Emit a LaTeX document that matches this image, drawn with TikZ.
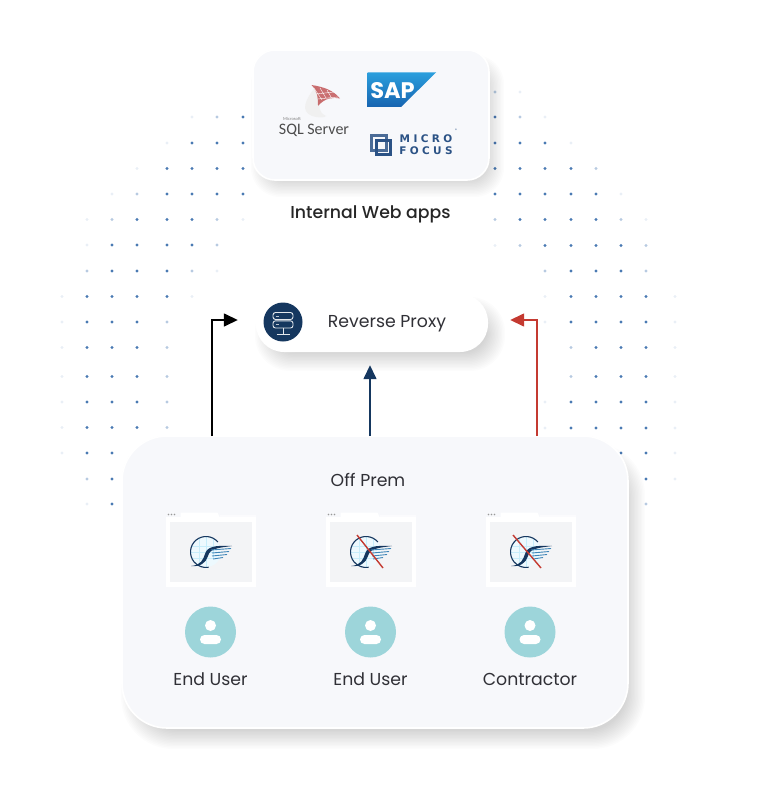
\documentclass[tikz,border=0pt]{standalone}
\usepackage{fontspec}
\setmainfont{Poppins}
\newfontfamily\mediumfont{Poppins Medium}
\newfontfamily\focusfont[LetterSpace=32]{DejaVu Sans}
\newfontfamily\sqlfont{Carlito}
\usetikzlibrary{arrows.meta}
\definecolor{navy}{HTML}{15375F}
\definecolor{brickred}{HTML}{C43A31}
\definecolor{paleteal}{HTML}{9DD5DA}
\definecolor{cardgrey}{HTML}{F7F8FB}
\definecolor{panelgrey}{HTML}{F3F4F6}
\definecolor{dotblue}{HTML}{4A7AB3}
\definecolor{textgrey}{HTML}{303036}
\definecolor{focusblue}{HTML}{2B5285}
\definecolor{saptop}{HTML}{2B9FDD}
\definecolor{sapbottom}{HTML}{1764B0}
\definecolor{wingblue}{HTML}{3F86B8}
\newcommand{\softshadow}[5]{%
  \foreach \s in {0,1,...,13}
    \fill [black, opacity=0.011, rounded corners={#5+7-\s}]
      (#1-7+\s*1.4,#2-7+\s*1.4) rectangle (#3+7-\s*1.4,#4+7-\s*1.4);
}
\tikzset{
  cardbox/.style={draw=white, line width=1.6, fill=cardgrey, inner sep=0},
  labeltext/.style={font=\fontsize{17.3}{20}\selectfont, text=textgrey, inner sep=0},
  arrowline/.style={line width=1.5, -{Triangle[length=14,width=13]}},
  dotstrong/.style={fill=dotblue},
  dotlight/.style={fill=dotblue, opacity=0.4},
  dotfaint/.style={fill=dotblue, opacity=0.12},
  browser/.pic={
    \fill [white] (-44.5,-35) rectangle (45.5,35);
    \fill [white] (-30,-39.5) -- (7,-39.5) -- (9,-35) -- (-30,-35) -- cycle;
    \fill [white, opacity=0.5] (9,-37.5) rectangle (45,-35);
    \fill [panelgrey] (-40.5,-30.5) rectangle (41.5,30);
    \fill [gray!80] (-42,-37.5) circle (0.8) (-39,-37.5) circle (0.8) (-36,-37.5) circle (0.8);
  },
  wing/.pic={
    \fill [cyan!7] (0,0) circle (15);
    \draw [cyan!22, line width=0.35] (-15,-6) -- (12,-6) (-15,0) -- (8,0) (-14,6) -- (8,6)
      (-7,-14) -- (-7,14) (0,-15) -- (0,15) (7,-14) -- (7,6);
    \draw [navy, line width=1.1] (-40:15.5) arc (-40:-280:15.5);
    \fill [navy] (-15,14) .. controls (-5,13) and (-3,8) .. (-1,2) .. controls (1,-5) and (8,-7) .. (26,-6)
      .. controls (10,-4) and (4,-3) .. (2,4) .. controls (0,11) and (-6,15) .. (-15,14) -- cycle;
    \draw [wingblue, line width=0.9] (5,-2) -- (25,-3.5) (6,1) -- (23,-0.5)
      (6,4) -- (21,2.5) (7,7) -- (17,5.5);
  },
  person/.pic={
    \fill [paleteal] (0,0) circle (25.5);
    \fill [white] (0,-6.5) circle (5.5);
    \fill [white, rounded corners=4.5] (-10.5,3) rectangle (10.5,12);
  },
}
\begin{document}
\begin{tikzpicture}[x=1pt,y=-1pt]
  \useasboundingbox (0,0) rectangle (768,789);

  \foreach \y/\cols in {117/{243},143/{192,217,243},168.5/{167,192,217,243},194/{167,192,217,243},
      219.5/{137,167,192},245/{112,137,167,192},271/{112,137,167},296.5/{87,112,137,167},
      322/{87,112,137},347.5/{87,112,137},376.5/{87,112,137},402/{87,112,137},427.5/{87,112,137},
      453/{87,112},479/{112},504/{112}}
    \foreach \x in \cols
      \fill [dotstrong] (\x,\y) circle (1.6);
  \foreach \y/\cols in {117/{217},194/{137},219.5/{112,217},245/{217},271/{87,192},
      322/{167},347.5/{167},376.5/{167},402/{167},427.5/{167},479/{87}}
    \foreach \x in \cols
      \fill [dotlight] (\x,\y) circle (1.6);
  \foreach \y/\cols in {117/{192},143/{167},168.5/{137},194/{112},219.5/{87,243},245/{87},271/{217},296.5/{62,192},
      322/{62},347.5/{62},376.5/{62},402/{62},427.5/{62},453/{62},504/{87}}
    \foreach \x in \cols
      \fill [dotfaint] (\x,\y) circle (1.6);
  \foreach \y/\cols in {117/{495},143/{495,520,545},168.5/{495,520,545,571},194/{495,520,545,571,596},
      219.5/{520,545,571,596},245.5/{545,571,596,621},271/{571,596,621},296.5/{571,596,621,646},
      322/{571,596,621,646},347.5/{596,621,646},376.5/{596,621,646},402/{571,596,621,646},428/{571,596,621,646},
      453/{621,646},479/{646}}
    \foreach \x in \cols
      \fill [dotstrong] (\x,\y) circle (1.6);
  \foreach \y/\cols in {92/{495},117/{520},168.5/{596},219.5/{495,621},245.5/{520,646},
      271/{545,646},347.5/{571},376.5/{571},504/{646}}
    \foreach \x in \cols
      \fill [dotlight] (\x,\y) circle (1.6);
  \foreach \y/\cols in {92/{520},117/{545},143/{571},194/{621},219.5/{646},245.5/{495},296.5/{545,675},
      322/{545,675},347.5/{675},376.5/{675},402/{545,675},428/{545,675},453/{675},479/{675}}
    \foreach \x in \cols
      \fill [dotfaint] (\x,\y) circle (1.6);

  \softshadow{258}{62}{497}{190}{22}
  \softshadow{262}{304}{498}{364}{28}
  \softshadow{128}{450}{638}{742}{45}

  \node (webcard) [cardbox, rounded corners=22, minimum width=236, minimum height=130] at (371,115) {};
  \node (proxy) [draw=none, fill=white, inner sep=0, rounded corners=28, minimum width=232, minimum height=58] at (372,323) {};
  \node (offprem) [cardbox, rounded corners=45, minimum width=506, minimum height=292] at (375,582) {};

  \fill [gray!12] (316,86) .. controls (305,100) and (300,111) .. (312,116) .. controls (318,118) and (325,118) .. (326,116)
    .. controls (318,112) and (318,105) .. (322,100) -- cycle;
  \fill [red!65!black, opacity=0.55] (311.5,85) .. controls (325,87) and (334,91) .. (340,98.5)
    .. controls (332,97) and (325,98) .. (318,106) .. controls (318,98) and (318,92) .. (311.5,85) -- cycle;
  \draw [white, line width=0.4] (314,88) -- (322,100) (320,88) -- (326,98) (327,90) -- (331,97) (316,94) -- (334,92) (318,99) -- (338,97);
  \node (microsoft) [inner sep=0, text=gray, font=\sqlfont\fontsize{4.5}{5}\selectfont] at (292,118.5) {Microsoft};
  \node (sqlserver) [inner sep=0, text=black!70, font=\sqlfont\fontsize{16}{18}\selectfont] at (314,130) {SQL Server};

  \shade [top color=saptop, bottom color=sapbottom] (367.5,72.5) -- (436,72.5) -- (401,107) -- (367.5,107) -- cycle;
  \node (sap) [inner sep=0, text=white, font=\bfseries\fontsize{22.5}{26}\selectfont] at (392.5,90.5) {SAP};

  \draw [focusblue!85, line width=3] (371.5,135.5) rectangle (386,150);
  \draw [focusblue, line width=3] (376,140) rectangle (390.2,154);
  \node (micro) [inner sep=0, text=focusblue, font=\focusfont\bfseries\fontsize{10.5}{12}\selectfont] at (426,139) {MICRO};
  \node (focus) [inner sep=0, text=focusblue, font=\focusfont\bfseries\fontsize{10.5}{12}\selectfont] at (426,151) {FOCUS};
  \node (regmark) [inner sep=0, text=focusblue, font=\sqlfont\fontsize{5}{6}\selectfont] at (456.5,131) {®};

  \node (webapps) [labeltext, font=\mediumfont\fontsize{17.3}{20}\selectfont, text=black!85] at (370.5,214.5) {Internal Web apps};

  \node (proxyicon) [circle, fill=navy, minimum size=39, inner sep=0] at (283,322) {};
  \draw [white!88!navy, line width=0.9, rounded corners=2.5] (273,312.5) rectangle (293,319.5);
  \draw [white!88!navy, line width=0.9, rounded corners=2.5] (273,320.8) rectangle (293,328);
  \draw [white!88!navy, line width=0.9] (283,328) -- (283,334) (276.5,334) -- (289.5,334);
  \draw [white!70!navy, line width=0.7] (275.5,316) -- (279,316) (275.5,324.4) -- (279,324.4);
  \node (proxylabel) [labeltext] at (387,323.5) {Reverse Proxy};

  \draw [arrowline, black, shorten >=18] ([xshift=-163,yshift=-1]offprem.north) |- ([yshift=3]proxy.west);
  \draw [arrowline, navy, shorten >=13] ([xshift=-5,yshift=-1]offprem.north) -- ([xshift=-2]proxy.south);
  \draw [arrowline, brickred, shorten >=22] ([xshift=162,yshift=-1]offprem.north) |- ([yshift=3]proxy.east);

  \node (offlabel) [labeltext] at (368,479.5) {Off Prem};

  \pic at (210.5,552) {browser};
  \pic at (370.5,552) {browser};
  \pic at (530.5,552) {browser};

  \pic at (206,552) {wing};
  \pic at (366,552) {wing};
  \pic at (526,552) {wing};
  \draw [brickred, line width=1.4] (357,535) -- (383,568);
  \draw [brickred, line width=1.4] (513,535) -- (541,568);

  \pic at (210.5,632) {person};
  \pic at (370.5,632) {person};
  \pic at (530,632) {person};

  \node (enduserone) [labeltext] at (210.5,679.5) {End User};
  \node (endusertwo) [labeltext] at (370.5,679.5) {End User};
  \node (contractor) [labeltext] at (530,679.5) {Contractor};
\end{tikzpicture}
\end{document}
